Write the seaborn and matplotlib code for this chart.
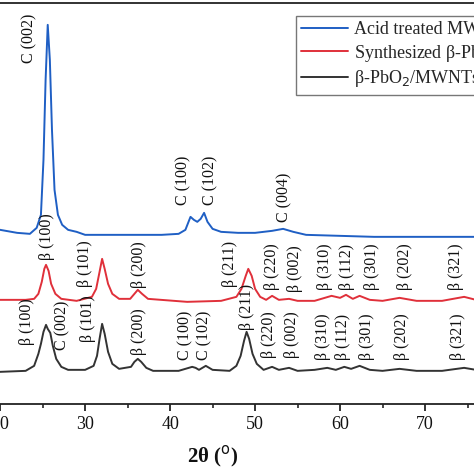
import numpy as np
import pandas as pd
import seaborn as sns
from matplotlib import pyplot as plt

sns.set_theme(style="ticks")
plt.rcParams["font.family"] = ["Liberation Serif", "DejaVu Serif"]

# 2theta / intensity (arbitrary units, offset stacked)
blue_tt = [19, 20, 22, 23.5, 24.3, 24.8, 25.1, 25.35, 25.6, 25.85, 26.1, 26.4, 26.8, 27.3, 28.0,
           29.0, 30, 33, 36, 39, 41, 41.8, 42.4, 42.8, 43.2, 43.6, 44.0, 44.4, 45.0, 46, 48,
           50, 52, 53.3, 54.5, 56, 60, 64, 70, 76, 80]
blue_y = [246, 244, 241, 240, 246, 259, 314, 394, 449, 414, 344, 284, 259, 249, 244,
          242, 239, 239, 239, 239, 240, 244, 257, 254, 252, 255, 261, 252, 245, 242, 241,
          241, 243, 245, 242, 239, 238, 237, 237, 237, 237]
red_tt = [19, 20, 23, 24.0, 24.5, 24.9, 25.2, 25.4, 25.7, 26.0, 26.5, 27.2, 29, 30.8, 31.3, 31.7,
          32.0, 32.3, 32.7, 33.2, 34, 35.3, 35.8, 36.2, 36.7, 37.4, 42, 46, 47.8, 48.4, 48.9,
          49.2, 49.6, 50.0, 50.6, 51.3, 52.0, 52.8, 54, 55, 57, 59, 60, 60.7, 61.5, 62.3,
          63.5, 65, 67, 69, 72, 74.6, 76, 80]
red_y = [174, 174, 174, 175, 180, 192, 205, 209, 203, 190, 180, 175, 173, 177, 185, 202,
         215, 205, 190, 180, 175, 175, 180, 184, 180, 175, 172, 173, 177, 185, 198,
         205, 198, 185, 177, 174, 178, 174, 175, 173, 173, 178, 176, 179, 175, 178,
         174, 173, 176, 173, 173, 177, 174, 173]
black_tt = [19, 20, 23, 24.0, 24.5, 24.8, 25.1, 25.4, 25.6, 25.9, 26.2, 26.6, 27.2, 28, 30,
            31.0, 31.4, 31.7, 32.0, 32.3, 32.7, 33.2, 34, 35.4, 35.8, 36.2, 36.6, 37.2, 38,
            41, 42.6, 43.0, 43.4, 44.2, 45, 47, 47.8, 48.3, 48.7, 49.0, 49.3, 49.7, 50.2, 51,
            52, 52.8, 54, 55, 57, 58.5, 59.5, 60.5, 61.3, 62.3, 63.5, 65, 67, 69, 72, 74.6,
            76, 80]
black_y = [102, 102, 103, 108, 120, 130, 142, 149, 145, 141, 128, 115, 107, 104, 104,
           108, 118, 135, 150, 140, 122, 110, 105, 107, 112, 115, 112, 106, 103,
           103, 107, 106, 104, 108, 104, 103, 108, 118, 133, 142, 135, 120, 110, 104,
           107, 104, 106, 103, 104, 106, 104, 107, 105, 108, 104, 103, 105, 103, 103, 106,
           104, 103]

# peak labels: text, 2theta, intensity at bottom of label
blue_labels = [("C (002)", 23.5, 411), ("C (100)", 41.6, 269), ("C (102)", 44.7, 269),
               ("C (004)", 53.5, 252)]
red_labels = [("β (100)", 25.5, 214), ("β (101)", 30.0, 187), ("β (200)", 36.3, 186),
              ("β (211)", 47.1, 187), ("β (220)", 52.0, 184), ("β (002)", 54.7, 182),
              ("β (310)", 58.2, 184), ("β (112)", 60.8, 184), ("β (301)", 63.7, 184),
              ("β (202)", 67.6, 184), ("β (321)", 73.7, 184)]
black_labels = [("β (100)", 23.2, 129), ("C (002)", 27.3, 124), ("β (101)", 30.3, 132),
                ("β (200)", 36.3, 119), ("C (100)", 41.8, 114), ("C (102)", 44.0, 114),
                ("β (211)", 49.0, 144), ("β (220)", 51.6, 116), ("β (002)", 54.3, 116),
                ("β (310)", 58.0, 114), ("β (112)", 60.4, 114), ("β (301)", 63.2, 114),
                ("β (202)", 67.3, 114), ("β (321)", 73.9, 114)]

series = [
    ("Acid treated MWNTs", blue_tt, blue_y, "#1f5fc4", blue_labels),
    ("Synthesized β-PbO$_2$", red_tt, red_y, "#e0303a", red_labels),
    ("β-PbO$_2$/MWNTs", black_tt, black_y, "#333333", black_labels),
]

fig = plt.figure(figsize=(4.74, 4.74), dpi=100)
ax = fig.add_axes([-0.179, 0.148, 1.255, 0.846])

for name, tt, yy, col, labels in series:
    df = pd.DataFrame({"tt": tt, "y": yy})
    sns.lineplot(data=df, x="tt", y="y", ax=ax, color=col, linewidth=1.4, label=name)
    for txt, x, y in labels:
        ax.text(x, y, txt, rotation=90, ha="center", va="bottom", fontsize=11.5, color="#111111")

ax.set_xlim(10, 80)
ax.set_ylim(70, 471)
ax.set_xticks([20, 30, 40, 50, 60, 70])
ax.set_xticks(np.arange(15, 80, 5), minor=True)
ax.set_yticks([])
ax.tick_params(axis="x", direction="out", length=5, width=1.2, labelsize=13, colors="#111111")
ax.tick_params(axis="x", which="minor", direction="out", length=3, width=1.2)
for s in ax.spines.values():
    s.set_linewidth(1.3)
    s.set_color("#222222")
ax.set_xlabel("2θ ($^{\\rm o}$)", fontsize=15, fontweight="bold", color="#111111", labelpad=8)
ax.set_ylabel("")

leg = ax.legend(loc="upper left", bbox_to_anchor=(0.625, 0.99), fontsize=13, frameon=True,
                fancybox=False, edgecolor="#555555", handlelength=2.6, borderpad=0.3,
                labelspacing=0.25, handletextpad=0.3)
leg.get_frame().set_linewidth(1.0)

fig.savefig("out.png", dpi=100)
